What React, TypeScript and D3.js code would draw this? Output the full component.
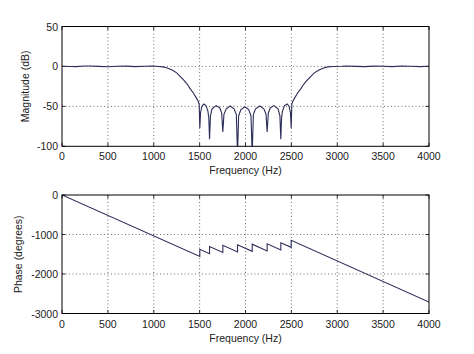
import React from 'react';
import * as d3 from 'd3';

// magnitude response (dB)
const magFreq = [
  0, 100, 150, 250, 300, 400, 500, 600, 700, 800, 900, 980, 1050, 1100, 1140, 1200, 1250, 1285, 1330, 1370, 1394, 1430, 1467, 1485, 1495,
  1502, 1510, 1525, 1545, 1570, 1590, 1600, 1608,
  1618, 1635, 1680, 1720, 1740, 1753,
  1765, 1790, 1833, 1875, 1900, 1913,
  1925, 1950, 1993, 2035, 2060, 2073,
  2086, 2110, 2155, 2200, 2224, 2236,
  2249, 2270, 2310, 2355, 2375, 2385,
  2393, 2403, 2425, 2455, 2475, 2490, 2498,
  2505, 2515, 2533, 2570, 2606, 2630, 2670, 2715, 2750, 2800, 2860, 2900, 2950, 3050, 3100, 3200, 3300, 3400, 3500, 3600, 3700, 3800, 3900, 4000,
];
const magDb = [
  0.3, 0, -0.3, 0.5, 0.6, 0.1, -0.4, 0.3, 0.4, -0.2, 0.3, 0.5, 0, -0.6, -1.7, -4.5, -8, -12, -17.5, -23, -27.5, -33, -40, -44, -47,
  -77, -58, -50, -47, -49, -56, -64, -91,
  -62, -53, -49, -52, -58, -82,
  -60, -53, -49.5, -53, -60, -110,
  -62, -54, -50.5, -54, -62, -110,
  -60, -53, -49.5, -53, -60, -82,
  -58, -52, -49, -53, -62, -91,
  -64, -56, -49, -47, -50, -58, -77,
  -47, -44, -40, -33, -27.5, -23, -17.5, -12, -8, -4.5, -1.7, -0.6, 0, 0.3, 0.6, 0.1, -0.3, 0.4, 0.2, -0.3, 0.5, 0.2, -0.3, 0.3,
];

// phase response (degrees), jumps of ~180 at the stopband nulls
const phaseFreq = [0, 1502, 1502, 1608, 1608, 1753, 1753, 1913, 1913, 2073, 2073, 2236, 2236, 2385, 2385, 2498, 2498, 4000];
const phaseDeg = [0, -1555, -1375, -1485, -1305, -1455, -1275, -1440, -1260, -1425, -1245, -1415, -1235, -1390, -1210, -1325, -1145, -2710];

const xTicks = [0, 500, 1000, 1500, 2000, 2500, 3000, 3500, 4000];
const magTicks = [-100, -50, 0, 50];
const phaseTicks = [-3000, -2000, -1000, 0];

const W = 474;
const H = 354;
const FONT = '"Liberation Sans", Arial, sans-serif';
const LINE = '#2c2c58';

type PanelProps = {
  id: string;
  top: number;
  bottom: number;
  xs: number[];
  ys: number[];
  yDomain: [number, number];
  yTicks: number[];
  yLabel: string;
  yLabelX: number;
};

const Panel = ({ id, top, bottom, xs, ys, yDomain, yTicks, yLabel, yLabelX }: PanelProps) => {
  const left = 62;
  const right = 429;
  const x = d3.scaleLinear().domain([0, 4000]).range([left, right]);
  const y = d3.scaleLinear().domain(yDomain).range([bottom, top]);

  const pts = xs.map((f, i) => [f, ys[i]] as [number, number]);
  const line = d3.line<[number, number]>()
    .x(d => x(d[0]))
    .y(d => y(d[1]));

  const tk = 3.5;

  return (
    <g>
      <defs>
        <clipPath id={id}>
          <rect x={left} y={top} width={right - left} height={bottom - top} />
        </clipPath>
      </defs>
      <rect x={left} y={top} width={right - left} height={bottom - top} fill="#fff" />
      {/* grid */}
      {xTicks.slice(1, -1).map(t => (
        <line key={'gx' + t} x1={x(t)} x2={x(t)} y1={top} y2={bottom}
          stroke="#333" strokeWidth={0.7} strokeDasharray="1,2.5" />
      ))}
      {yTicks.slice(1, -1).map(t => (
        <line key={'gy' + t} x1={left} x2={right} y1={y(t)} y2={y(t)}
          stroke="#333" strokeWidth={0.7} strokeDasharray="1,2.5" />
      ))}
      {/* ticks */}
      {xTicks.map(t => (
        <g key={'tx' + t}>
          <line x1={x(t)} x2={x(t)} y1={bottom} y2={bottom - tk} stroke="#000" strokeWidth={0.8} />
          <line x1={x(t)} x2={x(t)} y1={top} y2={top + tk} stroke="#000" strokeWidth={0.8} />
          <text x={x(t)} y={bottom + 14} textAnchor="middle" fontSize={10.5} fontFamily={FONT} fill="#222">{t}</text>
        </g>
      ))}
      {yTicks.map(t => (
        <g key={'ty' + t}>
          <line x1={left} x2={left + tk} y1={y(t)} y2={y(t)} stroke="#000" strokeWidth={0.8} />
          <line x1={right} x2={right - tk} y1={y(t)} y2={y(t)} stroke="#000" strokeWidth={0.8} />
          <text x={left - 4} y={y(t) + 4} textAnchor="end" fontSize={10.5} fontFamily={FONT} fill="#222">{t}</text>
        </g>
      ))}
      <path d={line(pts) ?? ''} fill="none" stroke={LINE} strokeWidth={1.1} clipPath={`url(#${id})`} />
      <rect x={left} y={top} width={right - left} height={bottom - top} fill="none" stroke="#000" strokeWidth={1} />
      <text x={(left + right) / 2} y={bottom + 28} textAnchor="middle" fontSize={10.5} fontFamily={FONT} fill="#222">Frequency (Hz)</text>
      <text transform={`translate(${yLabelX},${(top + bottom) / 2}) rotate(-90)`} textAnchor="middle"
        fontSize={10.5} fontFamily={FONT} fill="#222">{yLabel}</text>
    </g>
  );
};

export default function App() {
  return (
    <svg width={W} height={H} style={{ position: 'absolute', left: 0, top: 0, background: '#fff' }}>
      <rect width={W} height={H} fill="#fff" />
      <Panel id="clipMag" top={26.5} bottom={146.3} xs={magFreq} ys={magDb}
        yDomain={[-100, 50]} yTicks={magTicks} yLabel="Magnitude (dB)" yLabelX={29} />
      <Panel id="clipPhase" top={195} bottom={313.5} xs={phaseFreq} ys={phaseDeg}
        yDomain={[-3000, 0]} yTicks={phaseTicks} yLabel="Phase (degrees)" yLabelX={22} />
    </svg>
  );
}
